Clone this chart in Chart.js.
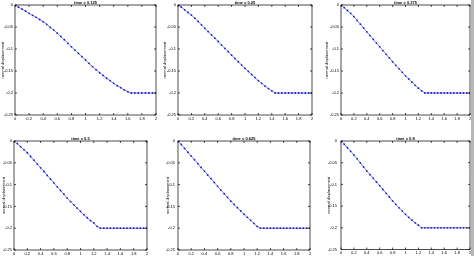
<!DOCTYPE html>
<html>
<head>
<meta charset="utf-8">
<script src="https://cdn.jsdelivr.net/npm/chart.js@4/dist/chart.umd.min.js"></script>
<style>
  html, body { margin: 0; padding: 0; background: #fff; }
  #page { position: relative; width: 474px; height: 256px; overflow: hidden; background: #fff; }
  .panel { position: absolute; }
  #edge { position: absolute; left: 471px; top: 0; width: 3px; height: 256px; background: #b8b8b8; }
</style>
</head>
<body>
<div id="page">
  <div class="panel" style="left:0;top:0;width:160px;height:126px"><canvas id="c1"></canvas></div>
  <div class="panel" style="left:160px;top:0;width:156px;height:126px"><canvas id="c2"></canvas></div>
  <div class="panel" style="left:316px;top:0;width:158px;height:126px"><canvas id="c3"></canvas></div>
  <div class="panel" style="left:0;top:134px;width:160px;height:122px"><canvas id="c4"></canvas></div>
  <div class="panel" style="left:160px;top:134px;width:156px;height:122px"><canvas id="c5"></canvas></div>
  <div class="panel" style="left:316px;top:134px;width:158px;height:122px"><canvas id="c6"></canvas></div>
  <div id="edge"></div>
</div>
<script>
'use strict';

const XS = [0, 0.05, 0.1, 0.15, 0.2, 0.25, 0.3, 0.35, 0.4, 0.45, 0.5, 0.55, 0.6, 0.65, 0.7, 0.75, 0.8, 0.85, 0.9, 0.95,
  1, 1.05, 1.1, 1.15, 1.2, 1.25, 1.3, 1.35, 1.4, 1.45, 1.5, 1.55, 1.6, 1.65, 1.7, 1.75, 1.8, 1.85, 1.9, 1.95, 2];

const TITLES = ['time = 0.125', 'time = 0.25', 'time = 0.375', 'time = 0.5', 'time = 0.625', 'time = 0.8'];
const Y_LABEL = 'normal displacement';

const T_0125 = [0, -0.005, -0.0095, -0.014, -0.019, -0.0235, -0.028, -0.033, -0.038, -0.044, -0.051, -0.057, -0.064,
  -0.0715, -0.079, -0.087, -0.095, -0.1025, -0.11, -0.1175, -0.125, -0.1325, -0.14, -0.147, -0.154, -0.16, -0.1665,
  -0.172, -0.178, -0.1835, -0.188, -0.193, -0.197, -0.2, -0.2, -0.2, -0.2, -0.2, -0.2, -0.2, -0.2];
const T_025 = [0, -0.005, -0.011, -0.017, -0.023, -0.03, -0.0375, -0.045, -0.053, -0.0605, -0.068, -0.0755, -0.083,
  -0.091, -0.0985, -0.106, -0.114, -0.1215, -0.129, -0.1365, -0.144, -0.151, -0.158, -0.165, -0.172, -0.178, -0.1845,
  -0.19, -0.195, -0.2, -0.2, -0.2, -0.2, -0.2, -0.2, -0.2, -0.2, -0.2, -0.2, -0.2, -0.2];
const T_0375 = [0, -0.006, -0.0125, -0.019, -0.0265, -0.035, -0.0435, -0.052, -0.061, -0.0695, -0.078, -0.0865, -0.095,
  -0.1035, -0.112, -0.1205, -0.129, -0.137, -0.145, -0.153, -0.161, -0.168, -0.1755, -0.1825, -0.189, -0.195, -0.2,
  -0.2, -0.2, -0.2, -0.2, -0.2, -0.2, -0.2, -0.2, -0.2, -0.2, -0.2, -0.2, -0.2, -0.2];
const T_05 = [0, -0.006, -0.013, -0.02, -0.027, -0.0355, -0.044, -0.053, -0.0615, -0.07, -0.079, -0.0875, -0.096,
  -0.105, -0.1135, -0.122, -0.131, -0.139, -0.1465, -0.154, -0.1615, -0.169, -0.176, -0.1825, -0.188, -0.196, -0.2,
  -0.2, -0.2, -0.2, -0.2, -0.2, -0.2, -0.2, -0.2, -0.2, -0.2, -0.2, -0.2, -0.2, -0.2];
const T_0625 = [0, -0.008, -0.017, -0.0258, -0.0346, -0.043, -0.052, -0.0605, -0.069, -0.078, -0.0865, -0.095, -0.104,
  -0.1125, -0.121, -0.1295, -0.138, -0.1455, -0.153, -0.1605, -0.168, -0.175, -0.182, -0.189, -0.196, -0.2,
  -0.2, -0.2, -0.2, -0.2, -0.2, -0.2, -0.2, -0.2, -0.2, -0.2, -0.2, -0.2, -0.2, -0.2, -0.2];
const T_08 = [0, -0.0075, -0.0155, -0.0237, -0.032, -0.041, -0.0505, -0.0597, -0.069, -0.0775, -0.086, -0.0945, -0.103,
  -0.1117, -0.1205, -0.129, -0.138, -0.146, -0.154, -0.1615, -0.169, -0.176, -0.1825, -0.1885, -0.194, -0.2,
  -0.2, -0.2, -0.2, -0.2, -0.2, -0.2, -0.2, -0.2, -0.2, -0.2, -0.2, -0.2, -0.2, -0.2, -0.2];

const SERIES = [T_0125, T_025, T_0375, T_05, T_0625, T_08];

// per panel layout: y axis width, x axis height, title padding top, right padding, y title offset, tick padding
const PANELS = [
  { yw: 15, xh: 11, tTop: 0, right: 3, yTitlePad: 0.3, yTickPad: 2 },
  { yw: 18, xh: 11, tTop: 0, right: 4, yTitlePad: 2.6, yTickPad: 2 },
  { yw: 25, xh: 11, tTop: 0, right: 3, yTitlePad: 8.6, yTickPad: 2 },
  { yw: 14, xh: 6, tTop: 2, right: 13, yTitlePad: 0.9, yTickPad: 2 },
  { yw: 18, xh: 6, tTop: 2, right: 6, yTitlePad: 4.9, yTickPad: 3 },
  { yw: 25, xh: 6, tTop: 2, right: 3, yTitlePad: 10.6, yTickPad: 4 },
];

const FONT = { family: '"Liberation Sans", Arial, sans-serif', size: 4, lineHeight: 1.25 };

function fmt(v) {
  return String(Number(v.toFixed(2)));
}

// matlab-like box with inward tick marks
const boxPlugin = {
  id: 'box',
  afterDraw(chart) {
    const { ctx, chartArea: a, scales } = chart;
    ctx.save();
    ctx.strokeStyle = '#000';
    ctx.lineWidth = 0.7;
    ctx.strokeRect(a.left, a.top, a.right - a.left, a.bottom - a.top);
    ctx.beginPath();
    for (const t of scales.x.ticks) {
      const px = scales.x.getPixelForValue(t.value);
      ctx.moveTo(px, a.bottom); ctx.lineTo(px, a.bottom - 2);
      ctx.moveTo(px, a.top); ctx.lineTo(px, a.top + 2);
    }
    for (const t of scales.y.ticks) {
      const py = scales.y.getPixelForValue(t.value);
      ctx.moveTo(a.left, py); ctx.lineTo(a.left + 2, py);
      ctx.moveTo(a.right, py); ctx.lineTo(a.right - 2, py);
    }
    ctx.stroke();
    ctx.restore();
  },
};

function makeChart(i) {
  const p = PANELS[i];
  const points = XS.map((x, k) => ({ x, y: SERIES[i][k] }));
  new Chart(document.getElementById('c' + (i + 1)), {
    type: 'line',
    data: {
      datasets: [{
        data: points,
        borderColor: 'rgba(60, 60, 255, 0.85)',
        borderWidth: 0.8,
        pointRadius: 0.9,
        pointBackgroundColor: '#1a1ab8',
        pointBorderWidth: 0,
        tension: 0,
      }],
    },
    options: {
      responsive: true,
      maintainAspectRatio: false,
      animation: false,
      layout: { padding: { left: 0, right: p.right, top: 0, bottom: 0 } },
      plugins: {
        legend: { display: false },
        tooltip: { enabled: false },
        title: {
          display: true,
          text: TITLES[i],
          fullSize: false,
          color: '#000',
          font: FONT,
          padding: { top: p.tTop, bottom: 0 },
        },
      },
      scales: {
        x: {
          type: 'linear',
          min: 0,
          max: 2,
          afterFit: (s) => { s.height = p.xh; },
          grid: { display: false, drawTicks: false },
          border: { display: false },
          ticks: {
            stepSize: 0.2,
            padding: 1,
            maxRotation: 0,
            autoSkip: false,
            color: '#000',
            font: FONT,
            callback: (v) => fmt(v),
          },
        },
        y: {
          min: -0.25,
          max: 0,
          afterFit: (s) => { s.width = p.yw; },
          grid: { display: false, drawTicks: false },
          border: { display: false },
          title: {
            display: true,
            text: Y_LABEL,
            color: '#000',
            font: FONT,
            padding: { top: p.yTitlePad, bottom: 0 },
          },
          ticks: {
            stepSize: 0.05,
            padding: p.yTickPad,
            autoSkip: false,
            color: '#000',
            font: FONT,
            callback: (v) => fmt(v),
          },
        },
      },
    },
    plugins: [boxPlugin],
  });
}

for (let i = 0; i < SERIES.length; i++) makeChart(i);
</script>
</body>
</html>
